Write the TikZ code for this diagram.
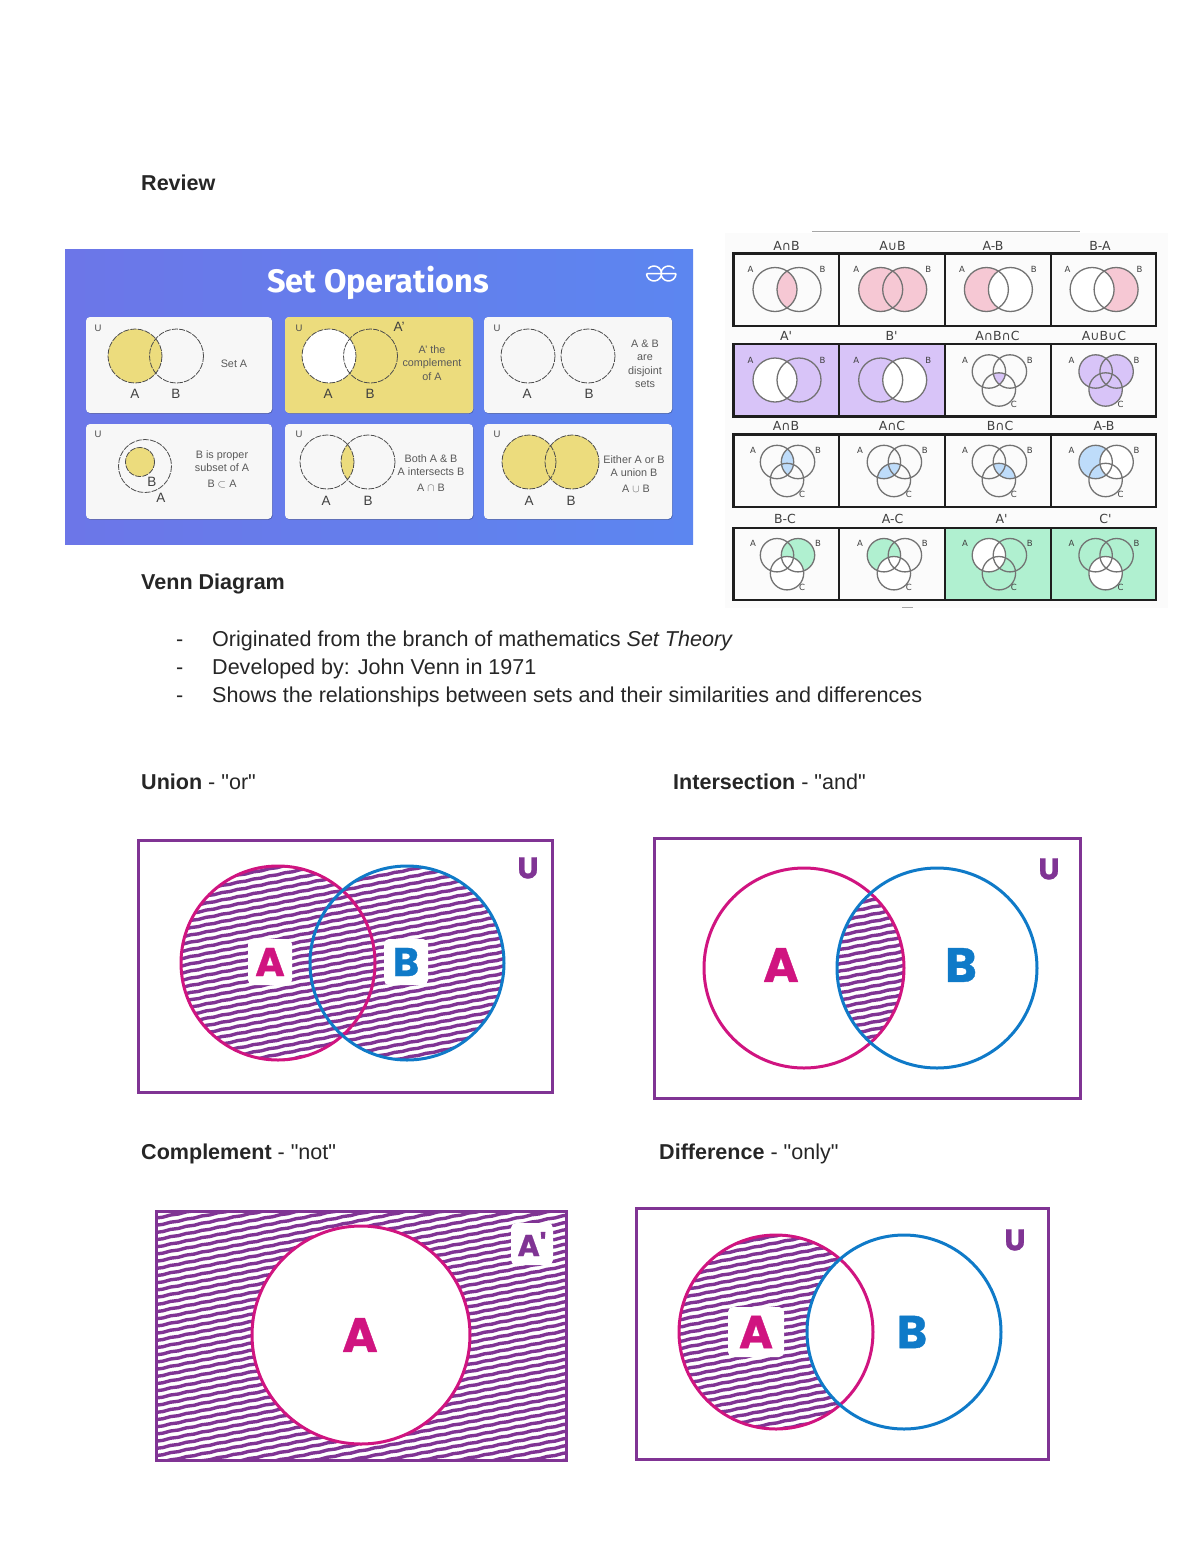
\documentclass[tikz,border=0pt]{standalone}
\usepackage{fontspec}
\setmainfont{Liberation Sans}
\newfontfamily\bodyfont{Liberation Sans}
\newfontfamily\titlefont{Fira Sans}
\newfontfamily\gridfont{DejaVu Sans}
\newfontfamily\vennfont{Poppins}[BoldFeatures={FakeBold=0.8}]
\definecolor{vennpurple}{RGB}{128,52,148}
\definecolor{vennpink}{RGB}{208,20,128}
\definecolor{vennblue}{RGB}{15,122,200}
\definecolor{bannerleft}{RGB}{108,118,232}
\definecolor{bannerright}{RGB}{92,134,240}
\definecolor{cardyellow}{RGB}{236,220,125}
\definecolor{gridpink}{RGB}{246,200,212}
\definecolor{gridviolet}{RGB}{216,196,248}
\definecolor{gridsky}{RGB}{190,220,250}
\definecolor{gridmint}{RGB}{176,240,208}
\definecolor{gridline}{RGB}{30,30,30}
\usetikzlibrary{shadows,decorations.pathmorphing}
\tikzset{
  bodytext/.style={anchor=base west, inner sep=0pt, font=\bodyfont\fontsize{21.55}{25}\selectfont, text=black!85},
  cardbox/.style={rounded corners=4pt, fill=white!97!black, drop shadow={shadow xshift=0.6pt, shadow yshift=-0.8pt, opacity=0.25, fill=black}},
  cardring/.style={draw=black!70, line width=0.8pt, dash pattern=on 6pt off 1.2pt},
  cardtext/.style={align=center, inner sep=0pt, text=black!65, font=\fontsize{10.8}{13.5}\selectfont},
  cardletter/.style={inner sep=0pt, text=black!75, font=\fontsize{13.5}{15}\selectfont},
  cardsmall/.style={inner sep=0pt, text=black!70, font=\fontsize{9.5}{11}\selectfont},
  gridhead/.style={inner sep=0pt, text=black!75, font=\gridfont\fontsize{12.5}{15}\selectfont},
  gridletter/.style={inner sep=0pt, text=black!75, font=\gridfont\fontsize{8.5}{10}\selectfont},
  gridring/.style={draw=black!55, line width=1.3pt},
  gridbox/.style={draw=gridline, line width=2.2pt},
  venncircleA/.style={draw=vennpink, line width=3pt},
  venncircleB/.style={draw=vennblue, line width=3pt},
  vennframe/.style={draw=vennpurple, line width=3pt},
  hatchline/.style={draw=vennpurple, line width=3.4pt, decorate, decoration={snake, segment length=16pt, amplitude=0.3pt}},
  vennletter/.style={font=\vennfont\bfseries\fontsize{#1}{#1}\selectfont},
  vennletter/.default=45,
  whitepad/.style={fill=white, rounded corners=5pt, minimum width=44pt, minimum height=46pt, inner sep=0pt},
}
% hatching with a small rise to the right: x from, x to, y from, y to
\newcommand{\hatchlines}[4]{
  \pgfmathsetmacro{\hatchend}{#4+0.2*(#2-#1)}
  \pgfmathsetmacro{\hatchnext}{#3+7.2}
  \foreach \yy in {#3,\hatchnext,...,\hatchend} {
    \draw[hatchline] (#1,\yy) -- (#2,\yy-0.2*#2+0.2*#1);
  }
}
% one panel with two sets: x, y, paint
\newcommand{\twosets}[3]{
  \begin{scope}[shift={(#1,#2)}]
    \def\setA{(41.5,36) circle (22)}
    \def\setB{(65.5,36) circle (22)}
    \def\whole{(0,0) rectangle (105.7,72.5)}
    #3
    \draw[gridring] \setA;
    \draw[gridring] \setB;
    \node[gridletter] at (17,16) {A};
    \node[gridletter] at (89,16) {B};
    \draw[gridbox] \whole;
  \end{scope}
}
% one panel with three sets: x, y, left edge of the sets, paint
\newcommand{\threesets}[4]{
  \begin{scope}[shift={(#1,#2)}]
    \def\setA{(#3,27.5) circle (16.7)}
    \def\setB{(#3+21,27.5) circle (16.7)}
    \def\setC{(#3+10,45.5) circle (16.7)}
    \def\whole{(0,0) rectangle (105.7,72.5)}
    #4
    \draw[gridring] \setA;
    \draw[gridring] \setB;
    \draw[gridring] \setC;
    \node[gridletter] at (#3-24,16) {A};
    \node[gridletter] at (#3+41,16) {B};
    \node[gridletter] at (#3+25,60) {C};
    \draw[gridbox] \whole;
  \end{scope}
}
\begin{document}
\begin{tikzpicture}[x=1pt,y=-1pt]
  \useasboundingbox (0,0) rectangle (1200,1553);

  % Titulares
  \node[bodytext] (review) at (141,190) {\bfseries Review};
  \node[bodytext] (venndiagram) at (141,589) {\bfseries Venn Diagram};
  \node[bodytext] (dashone) at (176,646) {-};
  \node[bodytext] (dashtwo) at (176,674) {-};
  \node[bodytext] (dashthree) at (176,702) {-};
  \node[bodytext] (lineone) at (212,646) {Originated from the branch of mathematics \itshape Set Theory};
  \node[bodytext] (linetwo) at (212,674) {Developed by: John Venn in 1971};
  \node[bodytext] (linethree) at (212,702) {Shows the relationships between sets and their similarities and differences};
  \node[bodytext] (uniontitle) at (141,789) {\textbf{Union} - "or"};
  \node[bodytext] (intertitle) at (673,789) {\textbf{Intersection} - "and"};
  \node[bodytext] (comptitle) at (141,1159) {\textbf{Complement} - "not"};
  \node[bodytext] (difftitle) at (659,1159) {\textbf{Difference} - "only"};

  % Set Operations
  \shade[left color=bannerleft, right color=bannerright] (65,249) rectangle (693,544);
  \node[text=white, inner sep=0pt, font=\titlefont\bfseries\fontsize{32.5}{36}\selectfont] (banner) at (378,283) {Set Operations};
  \draw[white, line width=1.5pt] (646.5,273.5) -- (676,273.5)
    (654,273.5) +(-140:7.5) arc (-140:180:7.5)
    (668.5,273.5) +(-40:7.5) arc (-40:-360:7.5);

  % Tarjetas
  \foreach \cx/\cy/\cw/\chh/\cname in {86/317/186/96/cardone,285/317/188/96/cardtwo,484/317/188/96/cardthree,86/424/186/95/cardfour,285/424/188/95/cardfive,484/424/188/95/cardsix} {
    \path[cardbox] (\cx,\cy) rectangle ++(\cw,\chh);
  }
  \fill[cardyellow, rounded corners=4pt] (285,317) rectangle (473,413);

  % Tarjeta 1
  \fill[cardyellow] (135,356) circle (27);
  \draw[cardring] (135,356) circle (27);
  \draw[cardring] (176.5,356) circle (27);
  \node[cardsmall] (uone) at (98,328) {U};
  \node[cardletter] (aone) at (135,394) {A};
  \node[cardletter] (bone) at (176,394) {B};
  \node[cardtext] (textone) at (234,364) {Set A};

  % Tarjeta 2
  \fill[white] (329,356) circle (27);
  \draw[cardring] (329,356) circle (27);
  \draw[cardring] (370.5,356) circle (27);
  \node[cardsmall] (utwo) at (299,328) {U};
  \node[cardletter] (aprimetwo) at (399,327) {A'};
  \node[cardletter] (atwo) at (328,394) {A};
  \node[cardletter] (btwo) at (370,394) {B};
  \node[cardtext] (texttwo) at (432,363) {A' the\\complement\\of A};

  % Tarjeta 3
  \draw[cardring] (528,356) circle (27);
  \draw[cardring] (588,356) circle (27);
  \node[cardsmall] (uthree) at (497,328) {U};
  \node[cardletter] (athree) at (527,394) {A};
  \node[cardletter] (bthree) at (589,394) {B};
  \node[cardtext] (textthree) at (645,364) {A \& B\\are\\disjoint\\sets};

  % Tarjeta 4
  \draw[cardring] (145,466) circle (26.5);
  \fill[cardyellow] (140,462) circle (14.5);
  \draw[cardring] (140,462) circle (14.5);
  \node[cardsmall] (ufour) at (98,434) {U};
  \node[cardletter] (bfour) at (152,482) {B};
  \node[cardletter] (afour) at (161,498) {A};
  \node[cardtext] (textfour) at (222,461) {B is proper\\subset of A};
  \node[cardtext] (symfour) at (222,484) {B $\subset$ A};

  % Tarjeta 5
  \begin{scope}
    \clip (327,462) circle (27);
    \fill[cardyellow] (368,462) circle (27);
  \end{scope}
  \draw[cardring] (327,462) circle (27);
  \draw[cardring] (368,462) circle (27);
  \node[cardsmall] (ufive) at (299,434) {U};
  \node[cardletter] (afive) at (326,501) {A};
  \node[cardletter] (bfive) at (368,501) {B};
  \node[cardtext] (textfive) at (431,465) {Both A \& B\\A intersects B};
  \node[cardtext] (symfive) at (431,488) {A $\cap$ B};

  % Tarjeta 6
  \fill[cardyellow] (529,462) circle (27) (572,462) circle (27);
  \draw[cardring] (529,462) circle (27);
  \draw[cardring] (572,462) circle (27);
  \node[cardsmall] (usix) at (497,434) {U};
  \node[cardletter] (asix) at (529,501) {A};
  \node[cardletter] (bsix) at (571,501) {B};
  \node[cardtext] (textsix) at (634,466) {Either A or B\\A union B};
  \node[cardtext] (symsix) at (636,489) {A $\cup$ B};

  % Tabla de conjuntos
  \fill[black!1.5] (725,233) rectangle (1168,608);
  \draw[black!35, line width=0.8pt] (812,231.7) -- (1080,231.7);
  \draw[black!35, line width=0.8pt] (902,607.7) -- (913,607.7);
  \foreach \hx/\hy/\htext in {786.5/245.5/A∩B,892.5/245.5/A∪B,993/245.5/A-B,1100/245.5/B-A,
      786/335.5/A',891.5/335.5/B',997.5/335.5/A∩B∩C,1104/335.5/A∪B∪C,
      786/426/A∩B,892/426/A∩C,1000/426/B∩C,1104/426/A-B,
      785/519/B-C,892.5/519/A-C,1001.5/519/A',1105.5/519/C'} {
    \node[gridhead] at (\hx,\hy) {\htext};
  }

  \twosets{733.5}{253.5}{\begin{scope}\clip \setA; \fill[gridpink] \setB; \end{scope}}
  \twosets{839.2}{253.5}{\fill[gridpink] \setA \setB;}
  \twosets{944.9}{253.5}{\fill[gridpink] \setA; \fill[white] \setB;}
  \twosets{1050.6}{253.5}{\fill[gridpink] \setB; \fill[white] \setA;}
  \twosets{733.5}{344}{\fill[gridviolet] \whole; \fill[white] \setA;}
  \twosets{839.2}{344}{\fill[gridviolet] \whole; \fill[white] \setB;}
  \threesets{944.9}{344}{44}{\begin{scope}\clip \setA; \clip \setB; \fill[gridviolet] \setC; \end{scope}}
  \threesets{1050.6}{344}{45}{\fill[gridviolet] \setA \setB \setC;}

  \threesets{733.5}{434.5}{43.5}{\begin{scope}\clip \setA; \fill[gridsky] \setB; \end{scope}}
  \threesets{839.2}{434.5}{44.7}{\begin{scope}\clip \setA; \fill[gridsky] \setC; \end{scope}}
  \threesets{944.9}{434.5}{44}{\begin{scope}\clip \setB; \fill[gridsky] \setC; \end{scope}}
  \threesets{1050.6}{434.5}{45}{\fill[gridsky] \setA; \fill[white] \setB;}

  \threesets{733.5}{527.7}{43.5}{\fill[gridmint] \setB; \fill[white] \setC;}
  \threesets{839.2}{527.7}{44.7}{\fill[gridmint] \setA; \fill[white] \setC;}
  \threesets{944.9}{527.7}{44}{\fill[gridmint] \whole; \fill[white] \setA;}
  \threesets{1050.6}{527.7}{45}{\fill[gridmint] \whole; \fill[white] \setC;}

  % Union
  \begin{scope}
    \clip (278,963) circle (97) (407,963) circle (97);
    \hatchlines{170}{515}{860}{1068}
  \end{scope}
  \draw[venncircleA] (278,963) circle (97);
  \draw[venncircleB] (407,963) circle (97);
  \draw[vennframe] (138,840) rectangle (552,1092);
  \node[whitepad, text=vennpink, vennletter=40] (seta) at (270,962) {A};
  \node[whitepad, text=vennblue, vennletter=40] (setb) at (406,962) {B};
  \node[text=vennpurple, vennletter=30] (unionu) at (528,868) {U};

  % Intersection
  \begin{scope}
    \clip (804,968) circle (100);
    \clip (937,968) circle (100);
    \hatchlines{820}{920}{860}{1078}
  \end{scope}
  \draw[venncircleA] (804,968) circle (100);
  \draw[venncircleB] (937,968) circle (100);
  \draw[vennframe] (654,838) rectangle (1080,1098);
  \node[text=vennpink, vennletter=48] (intera) at (781,965) {A};
  \node[text=vennblue, vennletter=48] (interb) at (961,965) {B};
  \node[text=vennpurple, vennletter=30] (interu) at (1049,869) {U};

  % Complement
  \begin{scope}
    \clip (156,1211) rectangle (566,1460);
    \hatchlines{150}{570}{1205}{1466}
  \end{scope}
  \draw[vennframe] (156,1211) rectangle (566,1460);
  \fill[white] (361,1335) circle (109);
  \draw[venncircleA] (361,1335) circle (109);
  \node[text=vennpink, vennletter=48] (compa) at (360,1335) {A};
  \node[fill=white, rounded corners=5pt, minimum width=42pt, minimum height=42pt, inner sep=0pt, text=vennpurple, vennletter=30] (compprime) at (532,1244) {A'};

  % Difference
  \begin{scope}
    \clip (776,1332) circle (97);
    \hatchlines{670}{880}{1228}{1438}
  \end{scope}
  \fill[white] (904,1332) circle (97);
  \draw[venncircleA] (776,1332) circle (97);
  \draw[venncircleB] (904,1332) circle (97);
  \draw[vennframe] (636,1208) rectangle (1048,1459);
  \node[whitepad, minimum width=56pt, minimum height=50pt, text=vennpink, vennletter=46] (diffa) at (756,1332) {A};
  \node[text=vennblue, vennletter=46] (diffb) at (912,1332) {B};
  \node[text=vennpurple, vennletter=30] (diffu) at (1015,1240) {U};
\end{tikzpicture}
\end{document}
